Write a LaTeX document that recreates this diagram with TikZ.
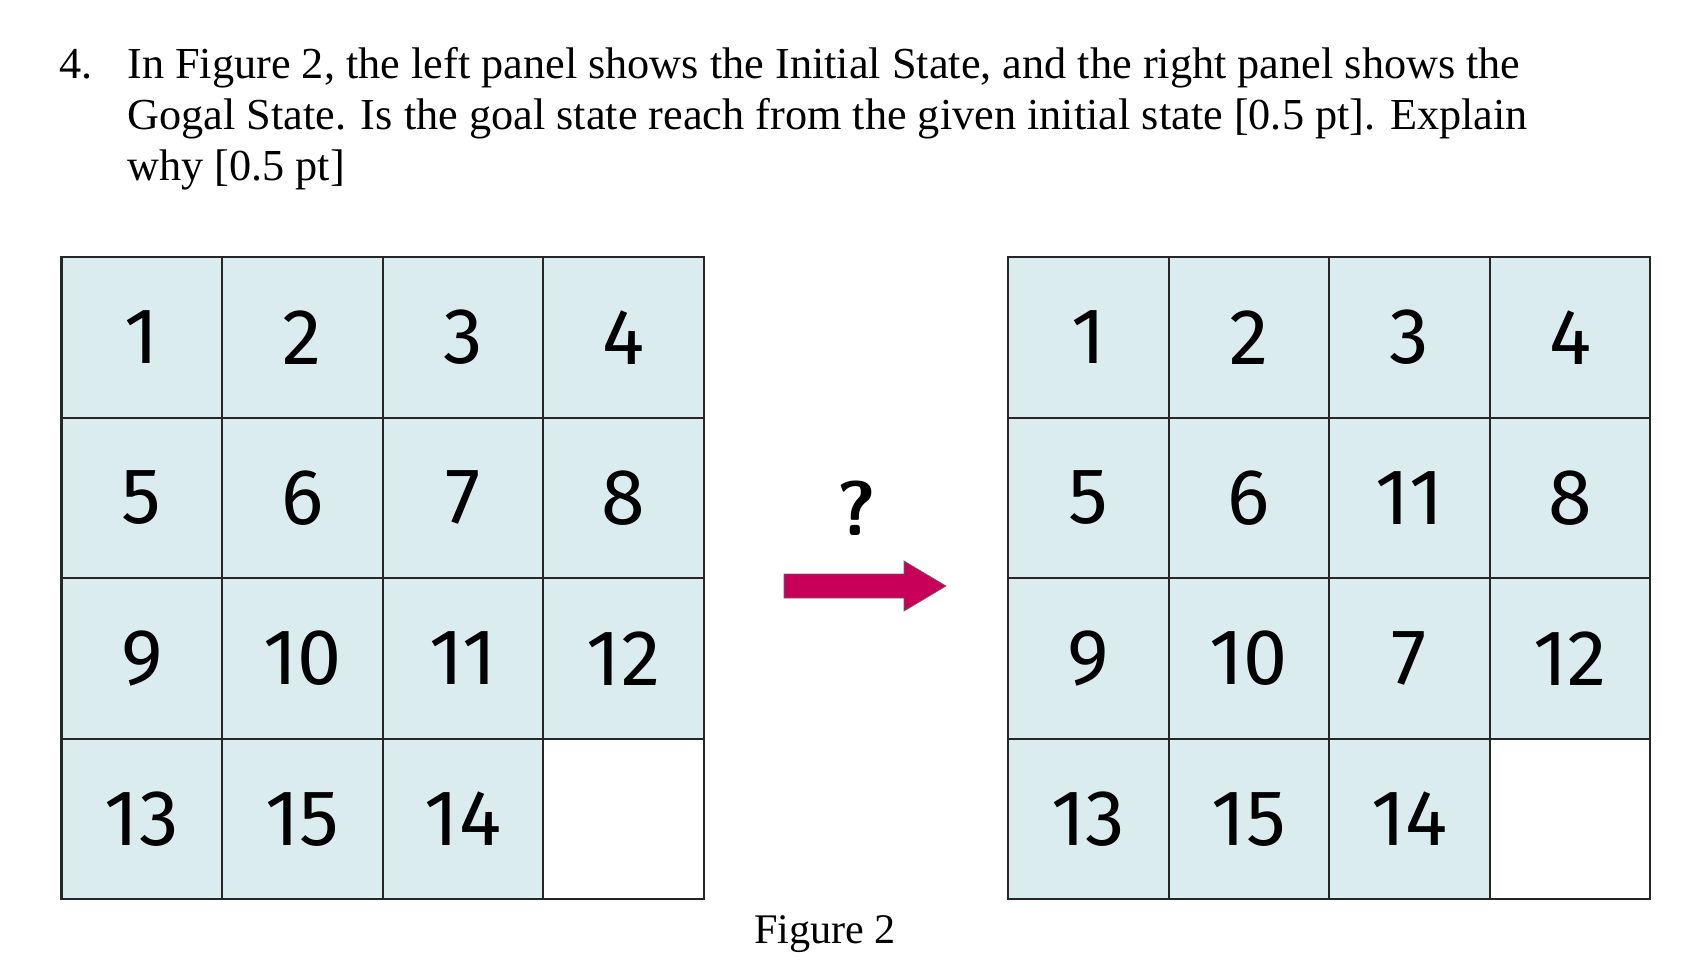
\documentclass[tikz,border=0pt]{standalone}
\usepackage{fontspec}
\setmainfont{Liberation Serif}
\newfontfamily\numfont{Fira Sans}
\begin{document}
\begin{tikzpicture}[x=0.02cm,y=-0.02cm,
  tile/.style={draw=black!85,line width=1.2pt,fill=tilecol,minimum size=160.6*0.02cm,inner sep=0pt,font=\numfont\fontsize{45}{48}\selectfont},
  blank/.style={tile,fill=white},
  para/.style={font=\fontsize{25.2}{30}\selectfont,anchor=base west,inner sep=0pt}]
\definecolor{tilecol}{HTML}{DAECEE}
\definecolor{arr}{HTML}{C8005A}
\useasboundingbox (0,0) rectangle (1690,978);
\node[para] (n4) at (59,78) {4.};
\node[para] (l1) at (127,78) {In Figure 2, the left panel shows the Initial State, and the right panel shows the};
\node[para] (l2) at (127,129) {Gogal State. Is the goal state reach from the given initial state [0.5 pt]. Explain};
\node[para] (l3) at (127,180) {why [0.5 pt]};
\foreach \ox/\nm/\lst in {61.5/L/{1,2,3,4,5,6,7,8,9,10,11,12,13,15,14}, 1008/R/{1,2,3,4,5,6,11,8,9,10,7,12,13,15,14}}{
  \foreach \t [count=\i from 0] in \lst {
    \pgfmathtruncatemacro\c{mod(\i,4)}
    \pgfmathtruncatemacro\r{div(\i,4)}
    \node[tile] (\nm\i) at ({\ox+80.3+160.6*\c},{257+80.3+160.6*\r}) {\t};
  }
  \node[blank] (\nm15) at ({\ox+80.3+160.6*3},{257+80.3+160.6*3}) {};
}
\node[font=\sffamily\bfseries\fontsize{44}{48}\selectfont] (q) at (857,508) {?};
\fill[arr,draw=black!60,line width=0.4pt] (784,574) -- (904,574) -- (904,561) -- (946,586) -- (904,611) -- (904,598) -- (784,598) -- cycle;
\node[font=\fontsize{24}{28}\selectfont] (fig) at (825,934) {Figure 2};
\end{tikzpicture}
\end{document}
